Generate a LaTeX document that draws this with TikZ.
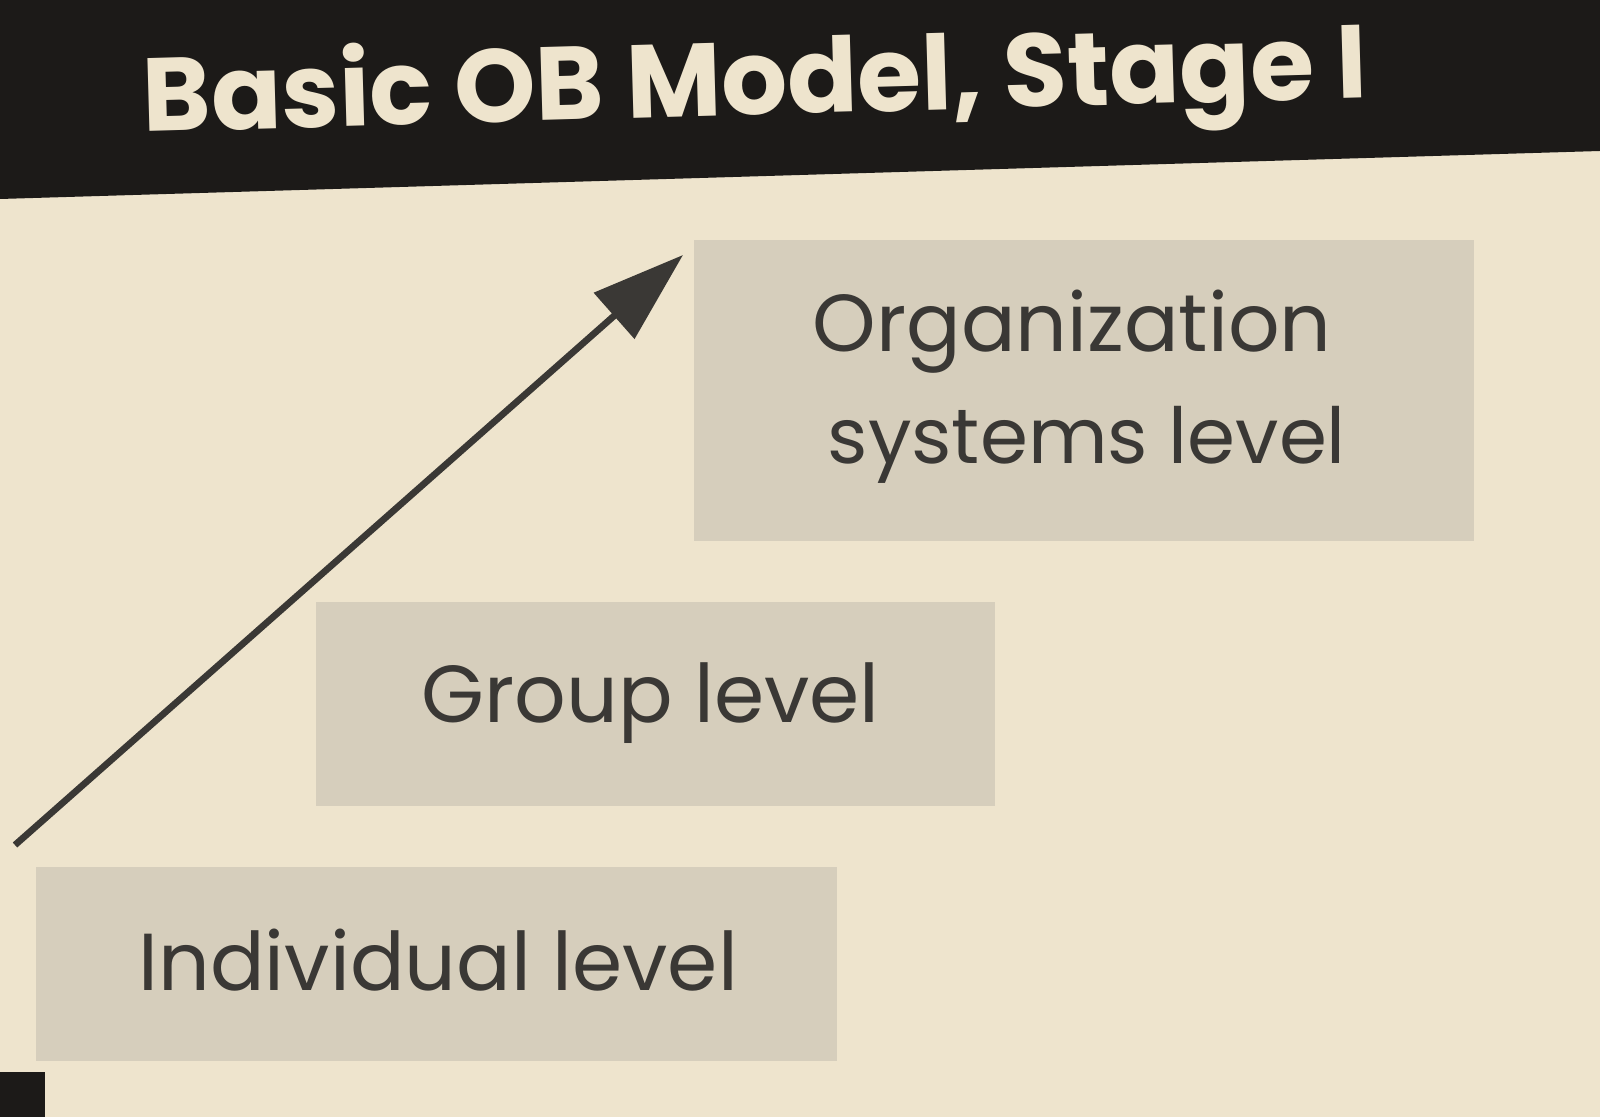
\documentclass[tikz,border=0pt]{standalone}
\usepackage{fontspec}
\setmainfont{Poppins}
\usetikzlibrary{arrows.meta}

\definecolor{paper}{HTML}{EEE4CD}
\definecolor{band}{HTML}{1C1A18}
\definecolor{boxgrey}{HTML}{D6CEBC}
\definecolor{ink}{HTML}{3A3835}

\tikzset{
  levelbox/.style={fill=boxgrey, draw=none, inner sep=0pt},
  leveltext/.style={text=ink, font=\fontsize{23}{32}\selectfont, align=left, inner sep=0pt},
}

\begin{document}
\begin{tikzpicture}

  % page and title band
  \fill[paper] (0,0) rectangle (16,11.17);
  \useasboundingbox (0,0) rectangle (16,11.17);
  \fill[band] (0,9.18) -- (16,9.66) -- (16,11.17) -- (0,11.17) -- cycle;
  \fill[band] (0,0) rectangle (0.45,0.45);
  \node[text=paper, font=\bfseries\fontsize{29.5}{34}\selectfont, anchor=base west, rotate=1.6, inner sep=0pt] (title) at (1.43,9.85) {Basic OB Model, Stage I};

  % level boxes
  \begin{scope}[every node/.style={levelbox}]
    \node[minimum width=7.80cm, minimum height=3.01cm] (org)   at (10.84,7.26) {};
    \node[minimum width=6.79cm, minimum height=2.04cm] (group) at (6.555,4.13) {};
    \node[minimum width=8.01cm, minimum height=1.94cm] (indiv) at (4.365,1.53) {};
  \end{scope}

  \begin{scope}[every node/.style={leveltext, anchor=base west}]
    \node (orgtext)   at (8.12,7.65) {Organization};
    \node[font=\fontsize{22}{32}\selectfont] (systext) at (8.27,6.53) {systems level};
    \node (grouptext) at (4.21,3.95) {Group level};
    \node (indivtext) at (1.38,1.27) {Individual level};
  \end{scope}

  % growth arrow
  \coordinate (start) at (0.15,2.72);
  \coordinate (tip)   at (6.83,8.62);
  \draw[ink, line width=1.9pt, -{Triangle[length=0.92cm, width=0.6cm]}] (start) -- (tip);

\end{tikzpicture}
\end{document}
